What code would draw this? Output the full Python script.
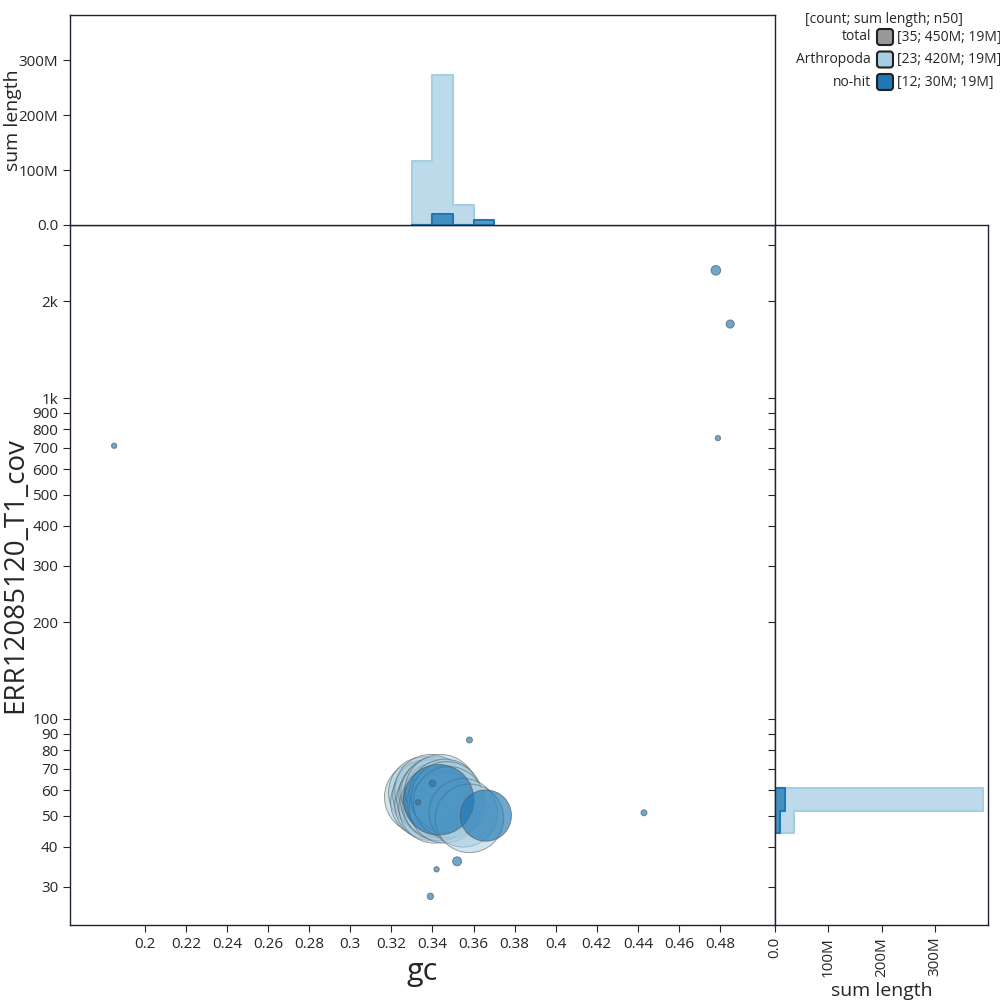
import numpy as np, pandas as pd, matplotlib
matplotlib.use("Agg")
import matplotlib.pyplot as plt, seaborn as sns
sns.set_style("white")
plt.rcParams['font.family'] = ['Open Sans', 'DejaVu Sans']

# Arthropoda contigs
arth_gc = [0.334,0.336,0.337,0.338,0.339,0.339,0.340,0.341,0.341,0.342,0.342,0.343,0.343,0.344,0.344,0.345,0.346,0.346,0.347,0.348,0.355,0.358]
arth_cov = [57,59,55,58,54,60,56,58,53,55,59,57,54,56,60,55,58,53,57,55,51,49]
arth_len = [19.5,19.5,19.5,19.5,19.5,19.5,19.5,19.5,19.5,19.5,19.5,19.5,19.5,19.5,19.5,19.5,19.5,19.5,19.5,19.5,18,18]
# no-hit contigs
nh_gc = [0.343,0.366,0.185,0.478,0.485,0.479,0.358,0.443,0.340,0.352,0.342,0.339,0.333]
nh_cov = [56,50,710,2500,1700,750,86,51,63,36,34,28,55]
nh_len = [19,10,0.05,0.3,0.2,0.05,0.08,0.08,0.1,0.25,0.05,0.1,0.05]

df = pd.DataFrame({"gc": arth_gc+nh_gc, "cov": arth_cov+nh_cov, "length": arth_len+nh_len,
                   "taxon": ["Arthropoda"]*len(arth_gc)+["no-hit"]*len(nh_gc)})
pal = {"Arthropoda": "#a6cee3", "no-hit": "#1f78b4"}

fig = plt.figure(figsize=(10, 10), dpi=100)
ax = fig.add_axes([0.07, 0.075, 0.705, 0.70])
axt = fig.add_axes([0.07, 0.775, 0.705, 0.21], sharex=ax)
axr = fig.add_axes([0.775, 0.075, 0.213, 0.70], sharey=ax)

df = df.sort_values("length", ascending=False)
for tx in ["Arthropoda", "no-hit"]:
    d = df[df.taxon == tx]
    sns.scatterplot(data=d, x="gc", y="cov", s=d["length"].values*135+8, color=pal[tx],
                    alpha=0.55 if tx == "Arthropoda" else 0.65, edgecolor="#555555", linewidth=0.7, ax=ax, legend=False)
ax.set_yscale("log")
ax.set_xlim(0.1635, 0.5068)
ax.set_ylim(22.8, 3460)
yt = [30,40,50,60,70,80,90,100,200,300,400,500,600,700,800,900,1000,2000,3000]
yl = ["30","40","50","60","70","80","90","100","200","300","400","500","600","700","800","900","1k","2k",""]
ax.set_yticks(yt); ax.set_yticklabels(yl); ax.yaxis.set_minor_locator(matplotlib.ticker.NullLocator())
xt = np.round(np.arange(0.2, 0.49, 0.02), 2)
ax.set_xticks(xt); ax.set_xticklabels([f"{v:g}" for v in xt])
ax.tick_params(axis="both", labelsize=11, length=5, direction="out", bottom=True, left=True)
ax.set_xlabel("gc", fontsize=22); ax.set_ylabel("ERR12085120_T1_cov", fontsize=20)
ax.yaxis.set_label_coords(-0.058, 0.5)

hdf = df.copy(); hdf["w"] = hdf["length"]*1e6
for tx in ["Arthropoda", "no-hit"]:
    d = hdf[(hdf.taxon == tx) & (hdf.gc >= 0.33) & (hdf.gc < 0.37)]
    sns.histplot(data=d, x="gc", weights="w", bins=4, binrange=(0.33, 0.37), element="step", color=pal[tx],
                 alpha=0.75, linewidth=1.5, ax=axt)
    d2 = hdf[(hdf.taxon == tx) & (hdf["cov"] > 44) & (hdf["cov"] < 60.5)]
    sns.histplot(data=d2, y="cov", weights="w", bins=2, binrange=(np.log10(44), np.log10(61)), element="step",
                 color=pal[tx], alpha=0.75, linewidth=1.5, ax=axr)
axt.set_ylim(0, 382e6); axt.set_xlabel(""); axt.set_ylabel("sum length", fontsize=14)
axt.yaxis.set_label_coords(-0.068, 0.5)
axt.set_yticks([0, 1e8, 2e8, 3e8]); axt.set_yticklabels(["0.0", "100M", "200M", "300M"])
axt.tick_params(labelbottom=False, labelsize=11, left=True, length=5)
axr.set_xlim(0, 400e6); axr.set_ylabel(""); axr.set_xlabel("sum length", fontsize=14)
axr.set_xticks([0, 1e8, 2e8, 3e8]); axr.set_xticklabels(["0.0", "100M", "200M", "300M"], rotation=90)
axr.tick_params(labelleft=False, labelsize=11, bottom=True, left=True, length=5)
for a in (ax, axt, axr):
    for s in a.spines.values():
        s.set_color("#222233"); s.set_linewidth(1)

fig.text(0.963, 0.988, "[count; sum length; n50]", ha="right", va="top", fontsize=10)
for i, (n, c, lab) in enumerate(zip(["total", "Arthropoda", "no-hit"], ["#999999", "#a6cee3", "#1f78b4"],
                                    ["[35; 450M; 19M]", "[23; 420M; 19M]", "[12; 30M; 19M]"])):
    y = 0.963 - i*0.0225
    fig.text(0.871, y, n, ha="right", va="center", fontsize=10)
    fig.patches.append(matplotlib.patches.FancyBboxPatch((0.877, y-0.008), 0.016, 0.016, boxstyle="round,pad=0,rounding_size=0.003",
                       transform=fig.transFigure, facecolor=c, edgecolor="#222222", linewidth=1.5))
    fig.text(0.897, y, lab, ha="left", va="center", fontsize=10)
fig.savefig("out.png", dpi=100)
